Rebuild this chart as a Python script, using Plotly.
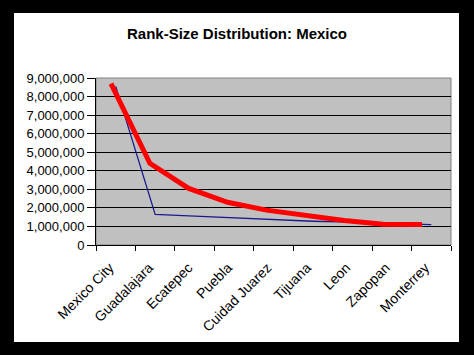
import plotly.graph_objects as go

cities = ["Mexico City", "Guadalajara", "Ecatepec", "Puebla", "Cuidad Juarez",
          "Tijuana", "Leon", "Zapopan", "Monterrey"]
actual_pop = [8550000, 1650000, 1560000, 1470000, 1340000, 1280000, 1230000, 1150000, 1100000]
rank_size_pop = [8700000, 4400000, 3050000, 2300000, 1880000, 1580000, 1320000, 1120000, 1110000]
y_ticks = [0, 1000000, 2000000, 3000000, 4000000, 5000000, 6000000, 7000000, 8000000, 9000000]

FONT = "Liberation Sans, Arial, sans-serif"

fig = go.Figure()
fig.add_trace(go.Scatter(x=cities, y=actual_pop, mode="lines",
                         line=dict(color="#1a1a8c", width=1.3), showlegend=False))
fig.add_trace(go.Scatter(x=cities, y=rank_size_pop, mode="lines", xaxis="x2",
                         line=dict(color="#ff0000", width=5), showlegend=False))

W, H = 474, 355
L, R, T, B = 96, 23, 78, 110
pw, ph = W - L - R, H - T - B

def px(xp):
    return (xp - L) / pw

def py(yp):
    return (H - B - yp) / ph

shapes = [
    dict(type="rect", xref="paper", yref="paper", x0=px(14), x1=px(459), y0=py(342), y1=py(13),
         fillcolor="white", line=dict(width=0), layer="below"),
    dict(type="rect", xref="paper", yref="paper", x0=0, x1=1, y0=0, y1=1,
         fillcolor="#c0c0c0", line=dict(color="#808080", width=1), layer="below"),
]

n = len(cities)
fig.update_layout(
    width=W, height=H,
    margin=dict(l=L, r=R, t=T, b=B, autoexpand=False),
    paper_bgcolor="black",
    plot_bgcolor="rgba(0,0,0,0)",
    font=dict(family=FONT, size=13, color="black"),
    title=dict(text="<b>Rank-Size Distribution: Mexico</b>", x=0.5, xanchor="center",
               y=1 - 34 / H, yanchor="middle", font=dict(family=FONT, size=15, color="black")),
    shapes=shapes,
    xaxis=dict(type="category", categoryorder="array", categoryarray=cities,
               range=[-0.5, n - 0.5], automargin=False,
               tickangle=-45, ticks="outside", tickson="boundaries", ticklen=5,
               ticklabelstandoff=8, ticklabelshift=-6,
               tickcolor="black", showline=True, linecolor="black", linewidth=1,
               showgrid=False, zeroline=False, tickfont=dict(size=14)),
    xaxis2=dict(type="category", categoryorder="array", categoryarray=cities,
                overlaying="x", range=[-0.386, 8.746], visible=False),
    yaxis=dict(range=[0, 9000000], tickvals=y_ticks, tickformat=",d", automargin=False,
               ticks="outside", ticklen=8, tickcolor="black",
               showline=True, linecolor="black", linewidth=1,
               showgrid=True, gridcolor="black", gridwidth=1, zeroline=False,
               tickfont=dict(size=13)),
)

fig.write_html("out.html", config={"displayModeBar": False},
               post_script="document.body.style.margin='0';document.body.style.overflow='hidden';")
